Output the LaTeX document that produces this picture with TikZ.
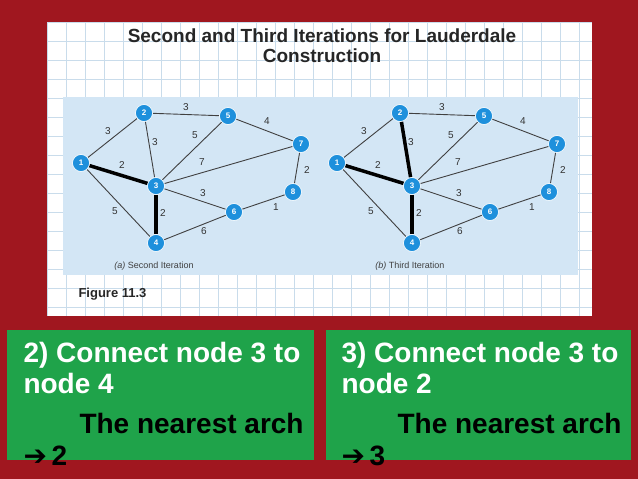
\documentclass[tikz,border=0pt]{standalone}
\usepackage{fontspec}
\setmainfont{Liberation Sans}
\newfontfamily\djv{DejaVu Sans}
\usetikzlibrary{backgrounds}
\definecolor{bgred}{HTML}{A0171F}
\definecolor{boxgreen}{HTML}{1FA34A}
\definecolor{panel}{HTML}{D3E6F5}
\definecolor{nodeblue}{HTML}{1E90DC}
\definecolor{gridc}{HTML}{C9DCEB}
\tikzset{
  gnode/.style={circle,fill=nodeblue,draw=white,line width=0.6pt,minimum size=17pt,inner sep=0pt,text=white,font=\bfseries\fontsize{8}{8}\selectfont},
  edge/.style={draw=black!75,line width=0.9pt},
  bold/.style={draw=black,line width=3.5pt},
  wt/.style={font=\fontsize{10}{10}\selectfont,text=black!80},
  say/.style={anchor=base west,font=\bfseries\fontsize{28}{28}\selectfont,text=white},
  sayb/.style={anchor=base west,font=\bfseries\fontsize{28}{28}\selectfont,text=black}
}
\newcommand{\mygraph}[3]{%
\begin{scope}[shift={(#1,0)}]
\node[gnode] (n1) at (81,163) {1};
\node[gnode] (n2) at (144,113) {2};
\node[gnode] (n5) at (228,116) {5};
\node[gnode] (n7) at (301,144) {7};
\node[gnode] (n3) at (156,186) {3};
\node[gnode] (n8) at (293,192) {8};
\node[gnode] (n6) at (234,212) {6};
\node[gnode] (n4) at (156,243) {4};
\path[edge] (n1)--(n2); \path[edge] (n2)--(n5); \path[edge] (n5)--(n7);
\path[edge] (n5)--(n3); \path[edge] (n7)--(n3); \path[edge] (n7)--(n8);
\path[edge] (n3)--(n6); \path[edge] (n8)--(n6); \path[edge] (n6)--(n4);
\path[edge] (n1)--(n4);
\path[#2] (n2)--(n3);
\path[bold] (n1)--(n3); \path[bold] (n3)--(n4);
\node[gnode] at (n1) {1}; \node[gnode] at (n2) {2}; \node[gnode] at (n5) {5};
\node[gnode] at (n7) {7}; \node[gnode] at (n3) {3}; \node[gnode] at (n8) {8};
\node[gnode] at (n6) {6}; \node[gnode] at (n4) {4};
\node[wt] (w1) at (108,131) {3};
\node[wt] (w2) at (186,107) {3};
\node[wt] (w3) at (155,142) {3};
\node[wt] (w4) at (195,135) {5};
\node[wt] (w5) at (267,121) {4};
\node[wt] (w6) at (122,165) {2};
\node[wt] (w7) at (202,162) {7};
\node[wt] (w8) at (307,170) {2};
\node[wt] (w9) at (203,193) {3};
\node[wt] (w10) at (115,211) {5};
\node[wt] (w11) at (163,213) {2};
\node[wt] (w12) at (276,207) {1};
\node[wt] (w13) at (204,231) {6};
\node[font=\fontsize{9}{9}\selectfont,text=black!75] (cap) at (154,266) {#3};
\end{scope}}
\begin{document}
\begin{tikzpicture}[x=1pt,y=-1pt]
\useasboundingbox (0,0) rectangle (638,479);
\fill[bgred] (0,0) rectangle (638,479);
\fill[white] (47,22) rectangle (592,316);
\foreach \gx in {0,...,28} \draw[gridc,line width=0.5pt] ({47+19*\gx},22) -- ({47+19*\gx},316);
\foreach \gy in {0,...,15} \draw[gridc,line width=0.5pt] (47,{22+19*\gy}) -- (592,{22+19*\gy});
\fill[panel] (63,97) rectangle (578,275);
\node[font=\bfseries\fontsize{19}{20}\selectfont,align=center,text=black!85] (title) at (322,46) {Second and Third Iterations for Lauderdale\\Construction};
\mygraph{0}{edge}{\textit{(a)} Second Iteration}
\mygraph{256}{bold}{\textit{(b)} Third Iteration}
\node[font=\bfseries\fontsize{13}{13}\selectfont,anchor=west,text=black!85] (fig) at (75,294) {Figure 11.3};
\fill[boxgreen] (7,330) rectangle (314,460);
\fill[boxgreen] (326,330) rectangle (631,460);
\node[say] (a1) at (20,362) {2) Connect node 3 to};
\node[say] (a2) at (20,393) {node 4};
\node[sayb] (a3) at (76,433) {The nearest arch};
\node[sayb] (a4) at (20,465) {{\djv\char"2794}\,2};
\node[say] (b1) at (338,362) {3) Connect node 3 to};
\node[say] (b2) at (338,393) {node 2};
\node[sayb] (b3) at (394,433) {The nearest arch};
\node[sayb] (b4) at (338,465) {{\djv\char"2794}\,3};
\end{tikzpicture}
\end{document}
